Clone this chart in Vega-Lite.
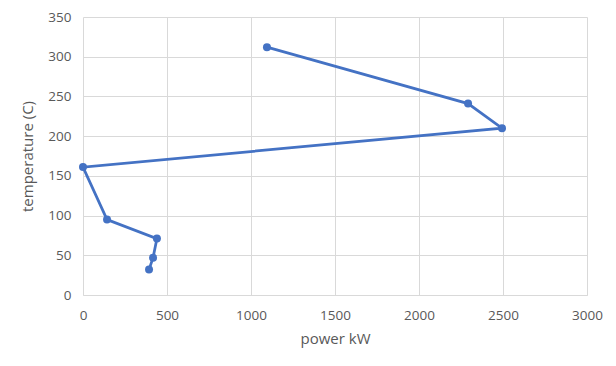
{
  "$schema": "https://vega.github.io/schema/vega-lite/v6.json",
  "width": 504,
  "height": 278,
  "autosize": {"type": "none"},
  "padding": {"left": 83, "top": 17, "right": 29, "bottom": 71},
  "background": "white",
  "config": {
    "view": {"stroke": null},
    "font": "Open Sans",
    "axis": {
      "labelFont": "Open Sans",
      "titleFont": "Open Sans",
      "labelColor": "#595959",
      "titleColor": "#595959",
      "labelFontSize": 13.5,
      "titleFontSize": 15,
      "titleFontWeight": "normal",
      "gridColor": "#d9d9d9",
      "ticks": false,
      "domain": false,
      "labelFlush": false,
      "labelOverlap": false
    }
  },
  "data": {
    "values": [
      {"i": 1, "power": 1095, "temp": 312},
      {"i": 2, "power": 2292, "temp": 241},
      {"i": 3, "power": 2494, "temp": 210},
      {"i": 4, "power": 0, "temp": 161},
      {"i": 5, "power": 143, "temp": 95},
      {"i": 6, "power": 440, "temp": 71},
      {"i": 7, "power": 417, "temp": 47},
      {"i": 8, "power": 393, "temp": 32}
    ]
  },
  "mark": {"type": "line", "color": "#4472C4", "strokeWidth": 2.75, "point": {"filled": true, "size": 64, "color": "#4472C4", "opacity": 1}},
  "encoding": {
    "order": {"field": "i", "type": "quantitative"},
    "x": {
      "field": "power", "type": "quantitative",
      "scale": {"domain": [0, 3000], "nice": false},
      "axis": {"values": [0, 500, 1000, 1500, 2000, 2500, 3000], "format": "d", "title": "power kW", "labelPadding": 13, "titlePadding": 10, "domain": true, "domainColor": "#d9d9d9"}
    },
    "y": {
      "field": "temp", "type": "quantitative",
      "scale": {"domain": [0, 350], "nice": false},
      "axis": {"values": [0, 50, 100, 150, 200, 250, 300, 350], "format": "d", "title": "temperature (C)", "labelPadding": 12, "titlePadding": 12}
    }
  }
}
